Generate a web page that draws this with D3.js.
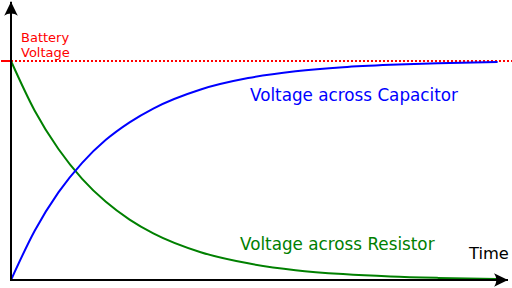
<!DOCTYPE html>
<html>
<head>
<meta charset="utf-8">
<script src="https://cdn.jsdelivr.net/npm/d3@7"></script>
<style>
  html, body { margin: 0; padding: 0; background: #fff; }
  svg { display: block; font-family: "DejaVu Sans", sans-serif; }
</style>
</head>
<body>
<div id="chart"></div>
<script>
// time in units of the RC time constant, voltages as a fraction of battery voltage
const times        = [0, 0.25, 0.5, 0.75, 1, 1.25, 1.5, 2, 2.5, 3, 3.5, 4, 4.5, 5.13];
const capacitorV   = [0, 0.225, 0.4, 0.535, 0.64, 0.72, 0.783, 0.87, 0.922, 0.953, 0.972, 0.983, 0.99, 0.995];
const resistorV    = [1, 0.773, 0.598, 0.462, 0.357, 0.276, 0.213, 0.127, 0.076, 0.045, 0.027, 0.016, 0.0097, 0.005];
const batteryLevel = 1;

const labels = {
  battery: ["Battery", "Voltage"],
  cap: "Voltage across Capacitor",
  res: "Voltage across Resistor",
  time: "Time"
};

const W = 512, H = 288;

const xScale = d3.scaleLinear().domain([0, 5.25]).range([11, 509]);
const yScale = d3.scaleLinear().domain([0, 1]).range([280, 61]);
const yTop = 1.27;

const svg = d3.select("#chart").append("svg")
  .attr("width", W)
  .attr("height", H);

const defs = svg.append("defs");
defs.append("marker")
  .attr("id", "arrow")
  .attr("viewBox", "-14 -7 15 14")
  .attr("refX", 0)
  .attr("refY", 0)
  .attr("markerWidth", 15)
  .attr("markerHeight", 14)
  .attr("markerUnits", "userSpaceOnUse")
  .attr("orient", "auto")
  .append("path")
    .attr("d", "M0,0 L-14,-6.8 C-11,-2.5 -11,2.5 -14,6.8 Z")
    .attr("fill", "#000");

// battery voltage level
svg.append("line")
  .attr("x1", xScale(0)).attr("x2", W)
  .attr("y1", yScale(batteryLevel)).attr("y2", yScale(batteryLevel))
  .attr("stroke", "#ff0000")
  .attr("stroke-width", 2)
  .attr("stroke-dasharray", "2,2");

svg.append("line")
  .attr("x1", 1).attr("x2", xScale(0))
  .attr("y1", yScale(batteryLevel)).attr("y2", yScale(batteryLevel))
  .attr("stroke", "#ff0000")
  .attr("stroke-width", 2);

const line = d3.line()
  .x(d => xScale(d[0]))
  .y(d => yScale(d[1]))
  .curve(d3.curveMonotoneX);

svg.append("path")
  .datum(times.map((t, i) => [t, resistorV[i]]))
  .attr("d", line)
  .attr("fill", "none")
  .attr("stroke", "#008000")
  .attr("stroke-width", 2);

svg.append("path")
  .datum(times.map((t, i) => [t, capacitorV[i]]))
  .attr("d", line)
  .attr("fill", "none")
  .attr("stroke", "#0000ff")
  .attr("stroke-width", 2);

// axes
svg.append("line")
  .attr("x1", xScale(0)).attr("y1", yScale(0))
  .attr("x2", xScale.range()[1] - 1).attr("y2", yScale(0))
  .attr("stroke", "#000").attr("stroke-width", 2)
  .attr("marker-end", "url(#arrow)");

svg.append("line")
  .attr("x1", xScale(0)).attr("y1", yScale(0) + 1)
  .attr("x2", xScale(0)).attr("y2", yScale(yTop))
  .attr("stroke", "#000").attr("stroke-width", 2)
  .attr("marker-end", "url(#arrow)");

// text
svg.append("text")
  .attr("x", 21).attr("y", 42)
  .attr("fill", "#ff0000")
  .attr("font-size", 13)
  .text(labels.battery[0]);

svg.append("text")
  .attr("x", 21).attr("y", 57)
  .attr("fill", "#ff0000")
  .attr("font-size", 13)
  .text(labels.battery[1]);

svg.append("text")
  .attr("x", 250).attr("y", 101)
  .attr("fill", "#0000ff")
  .attr("font-size", 16.8)
  .text(labels.cap);

svg.append("text")
  .attr("x", 240).attr("y", 249.5)
  .attr("fill", "#008000")
  .attr("font-size", 16.8)
  .text(labels.res);

svg.append("text")
  .attr("x", 469).attr("y", 259)
  .attr("fill", "#000")
  .attr("font-size", 16.3)
  .text(labels.time);
</script>
</body>
</html>
